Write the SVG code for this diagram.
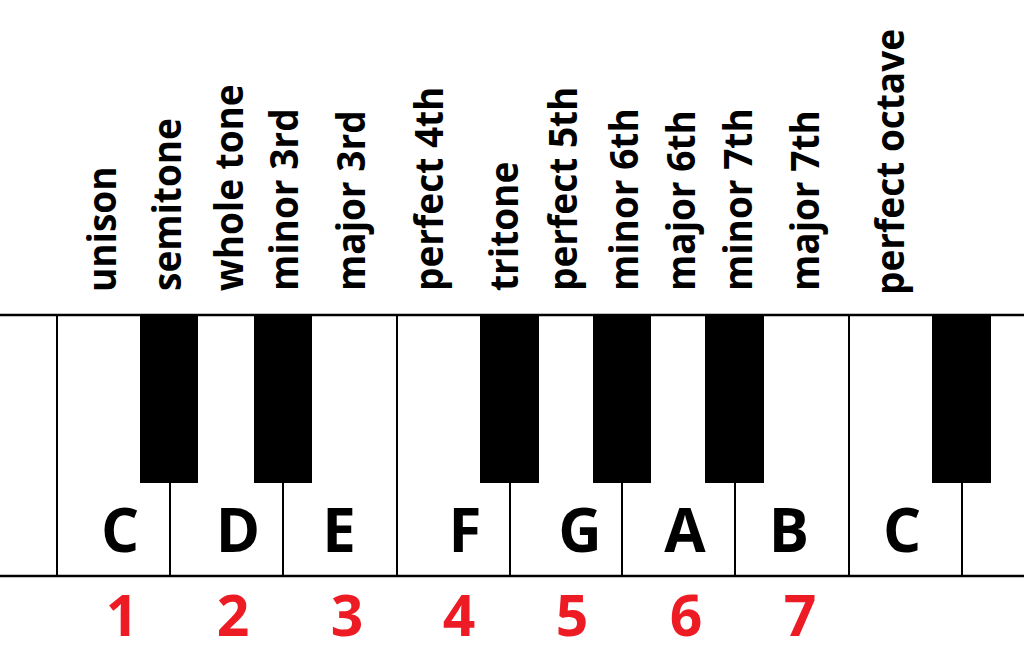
<svg xmlns="http://www.w3.org/2000/svg" width="1024" height="651" viewBox="0 0 1024 651">
<style>
.lbl{font-family:"Open Sans","Liberation Sans",sans-serif;font-weight:bold;font-size:37px;fill:#000}
.note{font-family:"Open Sans","Liberation Sans",sans-serif;font-weight:bold;font-size:60px;fill:#000;text-anchor:middle}
.num{font-family:"Open Sans","Liberation Sans",sans-serif;font-weight:bold;font-size:57px;fill:#ed1c24;text-anchor:middle}
.edge{stroke:#000;stroke-width:2.5;fill:none}
.div{stroke:#000;stroke-width:2;fill:none}
.blk{fill:#000}
</style>
<rect width="1024" height="651" fill="#fff"/>
<g id="keyboard">
<line class="edge" x1="0" y1="315" x2="1024" y2="315"/>
<line class="edge" x1="0" y1="576" x2="1024" y2="576"/>
<line class="div" x1="57" y1="315" x2="57" y2="576"/>
<line class="div" x1="170" y1="315" x2="170" y2="576"/>
<line class="div" x1="283" y1="315" x2="283" y2="576"/>
<line class="div" x1="397" y1="315" x2="397" y2="576"/>
<line class="div" x1="510" y1="315" x2="510" y2="576"/>
<line class="div" x1="622" y1="315" x2="622" y2="576"/>
<line class="div" x1="735" y1="315" x2="735" y2="576"/>
<line class="div" x1="849" y1="315" x2="849" y2="576"/>
<line class="div" x1="962" y1="315" x2="962" y2="576"/>
</g>
<g id="black-keys">
<rect class="blk" x="140" y="315" width="58" height="168"/>
<rect class="blk" x="254" y="315" width="58" height="168"/>
<rect class="blk" x="480" y="315" width="59" height="168"/>
<rect class="blk" x="593" y="315" width="58" height="168"/>
<rect class="blk" x="705" y="315" width="59" height="168"/>
<rect class="blk" x="932" y="315" width="59" height="168"/>
</g>
<g id="note-names">
<text class="note" x="120" y="552">C</text>
<text class="note" x="238" y="552">D</text>
<text class="note" x="339" y="552">E</text>
<text class="note" x="465" y="552">F</text>
<text class="note" x="580" y="552">G</text>
<text class="note" x="685" y="552">A</text>
<text class="note" x="789" y="552">B</text>
<text class="note" x="902" y="552">C</text>
</g>
<g id="degrees">
<text class="num" x="122" y="636">1</text>
<text class="num" x="233" y="636">2</text>
<text class="num" x="347" y="636">3</text>
<text class="num" x="459" y="636">4</text>
<text class="num" x="572" y="636">5</text>
<text class="num" x="686" y="636">6</text>
<text class="num" x="800" y="636">7</text>
</g>
<g id="intervals">
<text class="lbl" transform="translate(116,292) rotate(-90) scale(1,1.06)">unison</text>
<text class="lbl" transform="translate(181,291) rotate(-90) scale(1,1.06)">semitone</text>
<text class="lbl" transform="translate(243,291) rotate(-90) scale(1,1.06)">whole tone</text>
<text class="lbl" transform="translate(298,291) rotate(-90) scale(1,1.06)">minor 3rd</text>
<text class="lbl" transform="translate(365,291) rotate(-90) scale(1,1.06)">major 3rd</text>
<text class="lbl" transform="translate(443,291) rotate(-90) scale(1,1.06)">perfect 4th</text>
<text class="lbl" transform="translate(518,291) rotate(-90) scale(1,1.06)">tritone</text>
<text class="lbl" transform="translate(577,291) rotate(-90) scale(1,1.06)">perfect 5th</text>
<text class="lbl" transform="translate(638,291) rotate(-90) scale(1,1.06)">minor 6th</text>
<text class="lbl" transform="translate(695,291) rotate(-90) scale(1,1.06)">major 6th</text>
<text class="lbl" transform="translate(752,291) rotate(-90) scale(1,1.06)">minor 7th</text>
<text class="lbl" transform="translate(819,291) rotate(-90) scale(1,1.06)">major 7th</text>
<text class="lbl" transform="translate(904,295) rotate(-90) scale(1,1.06)">perfect octave</text>
</g>
</svg>
